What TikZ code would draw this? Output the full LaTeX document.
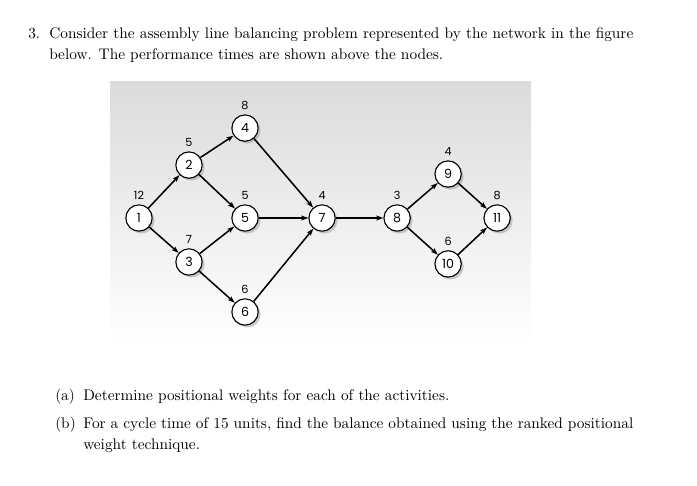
\documentclass[tikz,border=0pt]{standalone}
\usepackage{fontspec}
\newfontfamily\netfont{Poppins}
\usetikzlibrary{arrows.meta,positioning,shadows}

\begin{document}
\begin{tikzpicture}[x=0.714pt,y=-0.714pt,>={Stealth[length=5pt,width=3.4pt,inset=1pt]},on grid,
  main node/.style={circle,draw,fill=white,line width=0.8pt,minimum size=18.8pt,inner sep=0pt,
    font=\netfont\fontsize{9}{9}\selectfont,
    drop shadow={shadow xshift=1.7pt,shadow yshift=-1.7pt,fill=black!40}},
  time/.style={font=\netfont\fontsize{8}{8}\selectfont,inner sep=0pt},
  every label/.style={time},label distance=3pt,
  task/.style={anchor=base west,inner sep=0pt,font=\fontsize{10.95}{13.6}\selectfont}]

  \useasboundingbox (0,0) rectangle (697,485);
  \shade[top color=black!14,bottom color=white] (110,81) rectangle (531,343);

  \node[task] (q) at (28,38) {3.};
  \node[task] (q1) at (49,38) {\makebox[417pt][s]{Consider the assembly line balancing problem represented by the network in the figure}};
  \node[task] (q2) at (49,59) {below. The performance times are shown above the nodes.};

  \node[main node,label=above:12] (1) at (139,218) {1};
  \node[main node,label=above:5] (2) [above right=37.8pt and 35.7pt of 1] {2};
  \node[main node,label=above:7] (3) [below right=31.4pt and 35.7pt of 1] {3};
  \node[main node,label=above:8] (4) [above right=26.4pt and 40pt of 2] {4};
  \node[main node,label=above:5] (5) [below right=37.8pt and 40pt of 2] {5};
  \node[main node,label=above:6] (6) [below right=35.7pt and 40pt of 3] {6};
  \node[main node,label=above:4] (7) [right=55pt of 5] {7};
  \node[main node,label=above:3] (8) [right=53.6pt of 7] {8};
  \node[main node,label=above:4] (9) [above right=31.4pt and 36.4pt of 8] {9};
  \node[main node,label=above:6] (10) [below right=32.8pt and 36.4pt of 8] {10};
  \node[main node,label=above:8] (11) [right=71.4pt of 8] {11};

  \path[->,line width=1.1pt]
    (1) edge (2)
    (1) edge (3)
    (2) edge (4)
    (2) edge (5)
    (3) edge (5)
    (3) edge (6)
    (4) edge (7)
    (5) edge (7)
    (6) edge (7)
    (7) edge (8)
    (8) edge (9)
    (8) edge (10)
    (9) edge (11)
    (10) edge (11);

  \node[task] (a) at (55,400) {(a)};
  \node[task] (qa) at (83,400) {Determine positional weights for each of the activities.};
  \node[task] (b) at (55,428) {(b)};
  \node[task] (qb) at (83,428) {\makebox[392.7pt][s]{For a cycle time of 15 units, find the balance obtained using the ranked positional}};
  \node[task] (qc) at (83,449) {weight technique.};

\end{tikzpicture}
\end{document}
